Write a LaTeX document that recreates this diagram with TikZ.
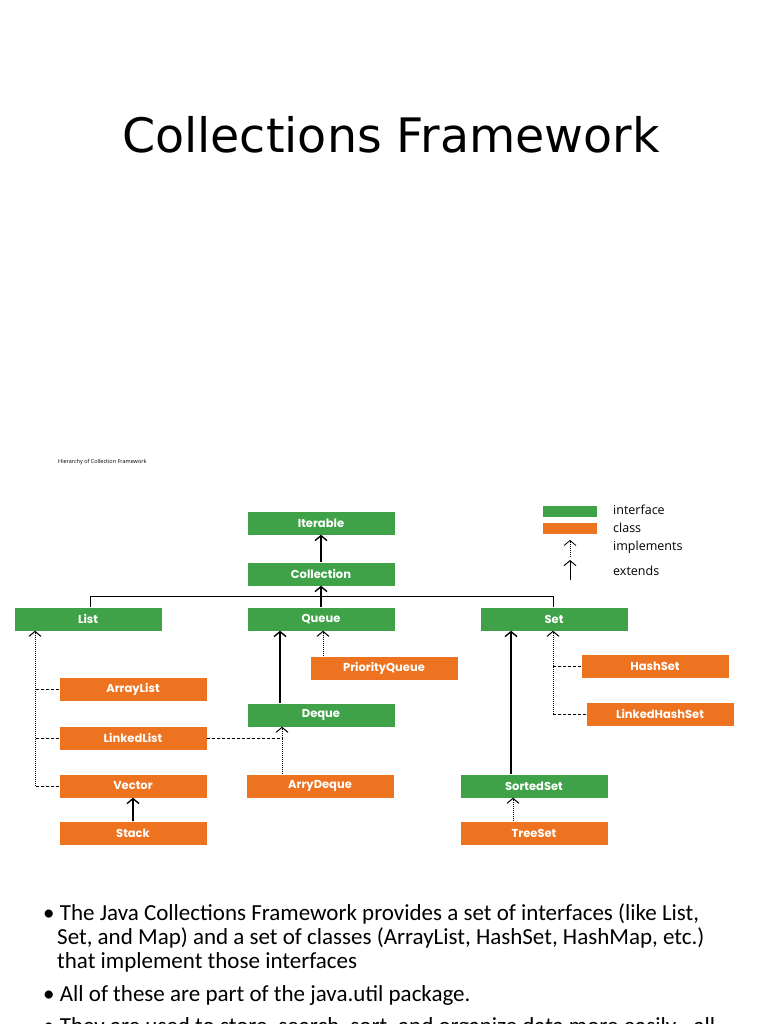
\documentclass[tikz,border=0pt]{standalone}
\usepackage{fontspec}
\setmainfont{Carlito}
\newfontfamily\titlefont{DejaVu Sans}
\newfontfamily\boxfont{Poppins}
\newfontfamily\legfont{Open Sans}
\usetikzlibrary{arrows.meta}
\definecolor{igreen}{RGB}{63,162,72}
\definecolor{corange}{RGB}{238,115,32}
\tikzset{
  box/.style={minimum width=147pt,minimum height=23pt,inner sep=0pt,text=white,font=\boxfont\bfseries\fontsize{11.5}{11.5}\selectfont},
  iface/.style={box,fill=igreen},
  cls/.style={box,fill=corange},
  ext/.style={line width=1.4pt,-{Straight Barb[length=5pt,width=12pt]}},
  impl/.style={line width=1pt,densely dotted,-{Straight Barb[length=5pt,width=12pt]}},
  br/.style={line width=0.9pt,densely dashed},
  bus/.style={line width=1pt}
}
\begin{document}
\begin{tikzpicture}[x=1pt,y=-1pt]
\useasboundingbox (0,0) rectangle (768,1024);
\clip (0,0) rectangle (768,1024);
\node (title) at (391,135) {\titlefont\fontsize{47.5}{47.5}\selectfont Collections Framework};
\node[anchor=west,inner sep=0pt] (cap) at (58,462) {\legfont\fontsize{5.5}{5.5}\selectfont Hierarchy of Collection Framework};
% nodes
\node[iface] (iter) at (321,523) {Iterable};
\node[iface] (coll) at (321,574) {Collection};
\node[iface] (list) at (88,619) {List};
\node[iface] (queue) at (321,619) {Queue};
\node[iface] (set) at (554,619) {Set};
\node[cls] (pq) at (384,668) {PriorityQueue};
\node[cls] (hs) at (655,666) {HashSet};
\node[cls] (lhs) at (660,714) {LinkedHashSet};
\node[cls] (al) at (133,689) {ArrayList};
\node[iface] (deque) at (321,715) {Deque};
\node[cls] (ll) at (133,738) {LinkedList};
\node[cls] (vec) at (133,786) {Vector};
\node[cls] (ad) at (320,786) {ArryDeque};
\node[iface] (ss) at (534,786) {SortedSet};
\node[cls] (stack) at (133,833) {Stack};
\node[cls] (ts) at (534,833) {TreeSet};
% connectors
\draw[ext] (coll.north) -- (iter.south);
\coordinate (busL) at (90,596);
\coordinate (busR) at (553,596);
\draw[bus] (list.north -| busL) -- (busL) -- (busR) -- (set.north -| busR);
\draw[ext] (queue.north) -- (coll.south);
\draw[ext] (deque.north -| 280,0) -- (queue.south -| 280,0);
\draw[impl] (ad.north -| 282,0) -- (deque.south -| 282,0);
\draw[br] (ll.east) -- (ll.east -| 282,0);
\draw[impl] (pq.north -| 323,0) -- (queue.south -| 323,0);
\coordinate (lb) at (35,786);
\draw[impl] (lb) -- (list.south -| lb);
\draw[br] (al.west) -- (al.west -| lb);
\draw[br] (ll.west) -- (ll.west -| lb);
\draw[br] (vec.west) -- (lb);
\draw[ext] (stack.north) -- (vec.south);
\draw[ext] (ss.north -| 511,0) -- (set.south -| 511,0);
\coordinate (sb) at (553,714);
\draw[impl] (sb) -- (set.south -| sb);
\draw[br] (hs.west) -- (hs.west -| sb);
\draw[br] (lhs.west) -- (sb);
\draw[impl] (ts.north -| 513,0) -- (ss.south -| 513,0);
% legend
\node[fill=igreen,minimum width=54pt,minimum height=11pt,inner sep=0pt] (lg) at (570,511) {};
\node[fill=corange,minimum width=54pt,minimum height=11pt,inner sep=0pt] (lo) at (570,528) {};
\coordinate (li0) at (570,557); \coordinate (li1) at (570,540);
\coordinate (le0) at (570,580); \coordinate (le1) at (570,560);
\draw[impl,line width=0.8pt] (li0) -- (li1);
\draw[ext,line width=1pt] (le0) -- (le1);
\tikzset{leg/.style={anchor=west,inner sep=0pt,font=\legfont\fontsize{12.5}{12.5}\selectfont}}
\node[leg] (t1) at (613,510) {interface};
\node[leg] (t2) at (613,528) {class};
\node[leg] (t3) at (613,547) {implements};
\node[leg] (t4) at (613,571) {extends};
% bullets
\tikzset{bl/.style={anchor=base west,inner sep=0pt,font=\fontsize{23}{23}\selectfont}}
\node[bl] (b1) at (43,920) {\textbullet\ The Java Collections Framework provides a set of interfaces (like List,};
\node[bl] (b1b) at (57,944) {Set, and Map) and a set of classes (ArrayList, HashSet, HashMap, etc.)};
\node[bl] (b1c) at (57,968) {that implement those interfaces};
\node[bl] (b2) at (43,1001) {\textbullet\ All of these are part of the java.util package.};
\node[bl] (b3) at (43,1033) {\textbullet\ They are used to store, search, sort, and organize data more easily - all};
\end{tikzpicture}
\end{document}
